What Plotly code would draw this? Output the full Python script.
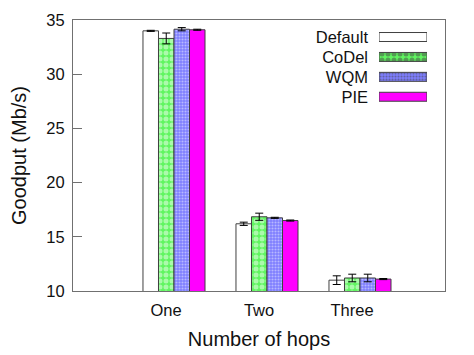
import plotly.graph_objects as go

categories = ["One", "Two", "Three"]
series = ["Default", "CoDel", "WQM", "PIE"]
values = {
    "Default": [34.0, 16.2, 11.0],
    "CoDel":   [33.3, 16.85, 11.2],
    "WQM":     [34.15, 16.75, 11.2],
    "PIE":     [34.1, 16.5, 11.1],
}
errors = {
    "Default": [0.05, 0.15, 0.4],
    "CoDel":   [0.5, 0.33, 0.35],
    "WQM":     [0.15, 0.05, 0.35],
    "PIE":     [0.05, 0.05, 0.05],
}
y_ticks = [10, 15, 20, 25, 30, 35]

styles = {
    "Default": dict(color="white", pattern=dict(shape="")),
    "CoDel": dict(color="#60f560", pattern=dict(shape=".", fgcolor="#f6fff6", size=6, solidity=0.55)),
    "WQM": dict(color="#7e7eff", pattern=dict(shape=".", fgcolor="#f2f2ff", size=3, solidity=0.4)),
    "PIE": dict(color="#ff00ff", pattern=dict(shape="")),
}

FONT = "Liberation Sans, Arial, sans-serif"
fig = go.Figure()
xs = list(range(len(categories)))
for s in series:
    st = styles[s]
    fig.add_trace(go.Bar(
        x=xs, y=values[s], name=s, showlegend=False,
        marker=dict(color=st["color"], pattern=dict(fillmode="overlay", **st["pattern"]),
                    line=dict(color="#404040", width=1)),
        error_y=dict(type="data", array=errors[s], color="black", thickness=1, width=4),
    ))

# legend drawn as a small horizontal bar chart
fig.add_trace(go.Bar(
    y=series, x=[1] * len(series), orientation="h", xaxis="x2", yaxis="y2",
    width=0.45, showlegend=False, hoverinfo="skip",
    marker=dict(
        color=[styles[s]["color"] for s in series],
        pattern=dict(
            shape=[styles[s]["pattern"].get("shape", "") for s in series],
            fgcolor=[styles[s]["pattern"].get("fgcolor", "black") for s in series],
            size=[styles[s]["pattern"].get("size", 6) for s in series],
            solidity=[styles[s]["pattern"].get("solidity", 0.5) for s in series],
            fillmode="overlay",
        ),
        line=dict(color="#404040", width=1),
    ),
))

tick_offset = -0.086
fig.update_layout(
    width=466, height=347,
    margin=dict(l=65, r=29, t=12, b=64),
    paper_bgcolor="white", plot_bgcolor="white",
    font=dict(family=FONT, size=16.5, color="#111111"),
    barmode="group", bargap=0.333, bargroupgap=0,
    xaxis=dict(
        range=[-1.086, 2.914], tickvals=[x + tick_offset for x in xs], ticktext=categories,
        showgrid=False, zeroline=False, ticks="", showline=True, linecolor="#707070",
        linewidth=1, mirror=True, ticklabelstandoff=4, automargin=False,
        title=dict(text="Number of hops", standoff=14),
    ),
    yaxis=dict(
        range=[10, 35], tickvals=y_ticks, showgrid=False, zeroline=False,
        ticks="inside", ticklen=9, tickcolor="#707070", showline=True, linecolor="#707070",
        linewidth=1, mirror=True, ticklabelstandoff=4, automargin=False,
        title=dict(text="Goodput (Mb/s)", standoff=18),
    ),
    xaxis2=dict(domain=[0.8226, 0.9516], range=[0, 1], anchor="y2", visible=False, fixedrange=True),
    yaxis2=dict(domain=[0.680, 0.974], range=[3.5, -0.5], anchor="x2", showgrid=False,
                tickmode="array", tickvals=series, ticktext=series, automargin=False,
                zeroline=False, showline=False, ticks="", ticklabelstandoff=10),
)
fig.write_html("out.html")
